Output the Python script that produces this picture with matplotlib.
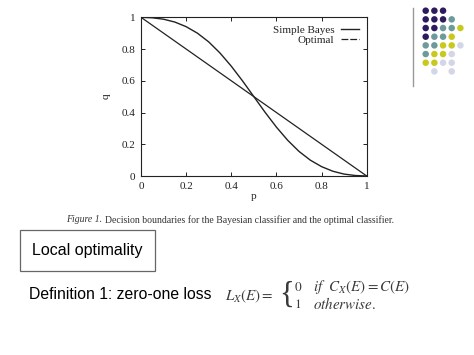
import matplotlib
matplotlib.use("Agg")
import matplotlib.pyplot as plt
from matplotlib.patches import Rectangle
from matplotlib.lines import Line2D

# boundary values
p_vals = [0.0, 0.05, 0.1, 0.15, 0.2, 0.25, 0.3, 0.35, 0.4, 0.45, 0.5,
          0.55, 0.6, 0.65, 0.7, 0.75, 0.8, 0.85, 0.9, 0.95, 1.0]
q_bayes = [1.0, 0.997, 0.988, 0.970, 0.941, 0.900, 0.845, 0.775, 0.692, 0.599, 0.5,
           0.401, 0.308, 0.225, 0.155, 0.100, 0.059, 0.030, 0.012, 0.003, 0.0]
q_optimal = [1.0, 0.0]
p_optimal = [0.0, 1.0]
ticks = [0, 0.2, 0.4, 0.6, 0.8, 1]
tick_labels = ["0", "0.2", "0.4", "0.6", "0.8", "1"]

# decorative dot grid (row, col, colour key)
dot_rows = [0, 0, 0, 1, 1, 1, 1, 2, 2, 2, 2, 2, 3, 3, 3, 3,
            4, 4, 4, 4, 4, 5, 5, 5, 5, 6, 6, 6, 6, 7, 7]
dot_cols = [0, 1, 2, 0, 1, 2, 3, 0, 1, 2, 3, 4, 0, 1, 2, 3,
            0, 1, 2, 3, 4, 0, 1, 2, 3, 0, 1, 2, 3, 1, 3]
dot_keys = "PPPPPPTPPTTYPTTYTTYYLTYYLYYLLLL"
palette = {"P": "#2d1b5e", "T": "#6e9a9c", "Y": "#c9c81f", "L": "#d3d6e6"}

serif = "Liberation Serif"
sans = "Liberation Sans"
plt.rcParams["mathtext.fontset"] = "stix"

fig = plt.figure(figsize=(4.74, 3.55), dpi=100)
W, H = 474, 355

ax = fig.add_axes([141 / W, 1 - 176 / H, 225.7 / W, 158.7 / H])
ink = "#222222"
bayes_line, = ax.plot(p_vals, q_bayes, color=ink, lw=1.0)
ax.plot(p_optimal, q_optimal, color=ink, lw=0.9)
ax.set_xlim(0, 1)
ax.set_ylim(0, 1)
ax.set_xticks(ticks)
ax.set_xticklabels(tick_labels)
ax.set_yticks(ticks)
ax.set_yticklabels(tick_labels)
ax.tick_params(direction="in", length=3, width=0.7, top=True, right=True,
               labelsize=8, colors=ink, pad=4)
for lab in ax.get_xticklabels() + ax.get_yticklabels():
    lab.set_family(serif)
for s in ax.spines.values():
    s.set_linewidth(0.8)
    s.set_color(ink)
ax.set_xlabel("p", family=serif, fontsize=8, color=ink, labelpad=1)
ax.set_ylabel("q", family=serif, fontsize=8, color=ink, labelpad=8)
opt_handle = Line2D([], [], color=ink, lw=0.9, ls=(0, (5.5, 1.5)))
leg = ax.legend([bayes_line, opt_handle], ["Simple Bayes", "Optimal"],
                loc="upper right", frameon=False, markerfirst=False,
                prop={"family": serif, "size": 8}, handlelength=1.6,
                handletextpad=0.6, labelspacing=0.05, borderaxespad=0.3)
for t in leg.get_texts():
    t.set_color(ink)

# overlay in pixel coordinates for slide text and decoration
ov = fig.add_axes([0, 0, 1, 1])
ov.set_xlim(0, W)
ov.set_ylim(H, 0)
ov.axis("off")

ov.text(66, 220, "Figure 1.", family=serif, style="italic", fontsize=7,
        color="#333333", va="center")
ov.text(105.5, 220, "Decision boundaries for the Bayesian classifier and the optimal classifier.",
        family=serif, fontsize=7, color="#333333", va="center")

ov.add_patch(Rectangle((20.5, 229.5), 134.5, 41, fill=False, ec="#666666", lw=0.9))
ov.text(87.7, 250, "Local optimality", family=sans, fontsize=11.5, color="black",
        ha="center", va="center")
ov.text(29.3, 294.5, "Definition 1: zero-one loss", family=sans, fontsize=11.3,
        color="black", va="center")

fc = "#3a3a3a"
ov.text(225.5, 296, r"$L_X(E) =$", fontsize=10.8, color=fc, va="center")
ov.text(279.5, 295.5, "{", family=serif, fontsize=22, color=fc, va="center",
        fontweight="light")
ov.text(294.5, 287.5, r"$0$", fontsize=9.5, color=fc, va="center")
ov.text(294.5, 304, r"$1$", fontsize=9.5, color=fc, va="center")
ov.text(313, 287.5, r"$if\ \ C_X(E) = C(E)$", fontsize=10.8, color=fc, va="center")
ov.text(313, 304, r"$otherwise.$", fontsize=10.8, color=fc, va="center")

ov.plot([412.7, 412.7], [8, 86], color="#999999", lw=1.0)
xs = [425.7 + 8.67 * c for c in dot_cols]
ys = [10.7 + 8.67 * r for r in dot_rows]
ov.scatter(xs, ys, s=22, c=[palette[k] for k in dot_keys], linewidths=0)

fig.savefig("out.png", dpi=100)
